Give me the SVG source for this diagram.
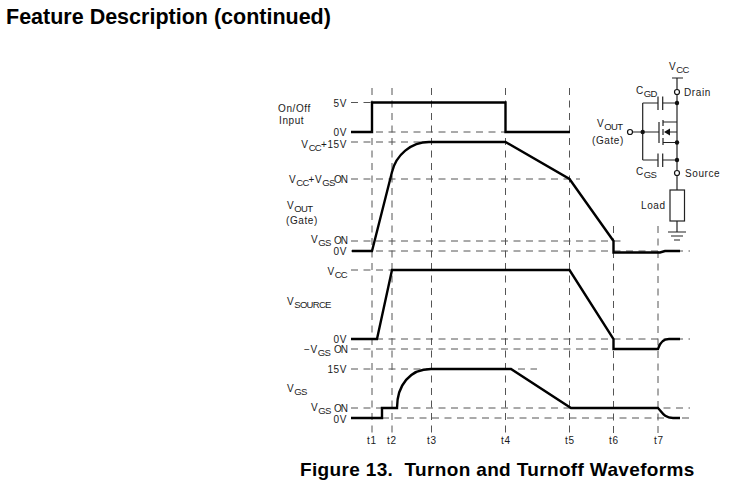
<svg xmlns="http://www.w3.org/2000/svg" width="737" height="495" viewBox="0 0 737 495">
<style>
text{font-family:"Liberation Sans",Arial,sans-serif;fill:#1a1a1a}
.l{font-size:10px;letter-spacing:.6px}
.e{text-anchor:end}
.s{font-size:9.500px;letter-spacing:-.7px}
.n{font-size:10px;letter-spacing:-1px}
.d{stroke:#555;stroke-width:1;stroke-dasharray:7 5.5;fill:none}
.w{stroke:#000;stroke-width:2.4;fill:none;stroke-linejoin:miter}
.c{stroke:#222;stroke-width:1.2;fill:none}
.o{stroke:#111;stroke-width:1.2;fill:#fff}
.b{fill:#111}
</style>
<rect width="737" height="495" fill="#fff"/>
<text x="6" y="24" font-size="21.500" font-weight="bold" style="fill:#000">Feature Description (continued)</text>
<g id="grid">
<path class="d" d="M372 88V435M392 88V435M431.500 88V435M505.500 88V435M569.500 88V435M613.500 226V435M658 226V435"/>
<path class="d" d="M351 102.500H372M351 132H505M351 142H505M351 179H580M351 241H625M351 251H690M351 270H392M351 339H690M351 349H614M351 369H431M518 369H537M351 408H690M382 418H690"/>
</g>
<g id="waveforms">
<path class="w" d="M351 132H372V102.500H505.500V132H570"/>
<path class="w" d="M352 251H372L392 172C396 155 411 142 429 142H505.500L569.500 179L613.500 241V252.500H660L665 251H680"/>
<path class="w" d="M351 339H377L392 270H569.500L613.500 339V349H658C660 342 664 339 669 339H680"/>
<path class="w" d="M351 418H382V408H397C397 385 410 369 431 369H511L571 408H658C662 412 664 418 673 418H680"/>
</g>
<g id="labels">
<text class="l" x="278" y="112">On/Off</text>
<text class="l" x="279" y="124">Input</text>
<text class="l e" x="347" y="107">5V</text>
<text class="l e" x="347" y="136">0V</text>
<text class="l e" x="347" y="148">V<tspan class="s" dy="3">CC</tspan><tspan dy="-3">+15V</tspan></text>
<text class="l" x="289" y="183">V<tspan class="s" dy="3">CC</tspan><tspan dy="-3">+V</tspan><tspan class="s" dy="3">GS</tspan></text>
<text class="n e" x="347" y="183">ON</text>
<text class="l" x="311" y="243">V<tspan class="s" dy="3">GS</tspan></text>
<text class="l" x="287" y="209">V<tspan class="s" dy="3">OUT</tspan></text>
<text class="l" x="286" y="224">(Gate)</text>
<text class="n e" x="347" y="244">ON</text>
<text class="l e" x="347" y="255">0V</text>
<text class="l e" x="347" y="275">V<tspan class="s" dy="3">CC</tspan></text>
<text class="l" x="287" y="305">V<tspan class="s" dy="3">SOURCE</tspan></text>
<text class="l e" x="347" y="343">0V</text>
<text class="l" x="304" y="353">−V<tspan class="s" dy="3">GS</tspan></text>
<text class="n e" x="347" y="353">ON</text>
<text class="l e" x="347" y="373">15V</text>
<text class="l" x="287" y="392">V<tspan class="s" dy="3">GS</tspan></text>
<text class="l" x="311" y="411">V<tspan class="s" dy="3">GS</tspan></text>
<text class="n e" x="347" y="412">ON</text>
<text class="l e" x="347" y="423">0V</text>
<text class="l" x="367" y="444">t1</text>
<text class="l" x="387" y="444">t2</text>
<text class="l" x="427" y="444">t3</text>
<text class="l" x="501" y="444">t4</text>
<text class="l" x="565" y="444">t5</text>
<text class="l" x="609" y="444">t6</text>
<text class="l" x="654" y="444">t7</text>
</g>
<g id="mosfet-circuit">
<path class="c" d="M672 78H683M677 78V89.500M677 94.500V170.500M677 175.500V190M642.700 103V160M642.700 103H658M662.700 103H677M642.700 160H658M662.700 160H677M632.500 132H659M663 122H677M663 142.500H677M668 132H677V142.500"/>
<path class="c" d="M658 96.500V110M662.700 96.500V110M658 153.500V167M662.700 153.500V167M659 122V143M663 120V126M663 129V135M663 138V145"/>
<path class="b" d="M664 132L670 128.500V135.500Z"/>
<rect class="c" x="670" y="190" width="14.500" height="31"/>
<path class="c" d="M677 221V232M668 232H686M671 236H683M674 240H680"/>
<circle class="b" cx="677" cy="103" r="2.200"/>
<circle class="b" cx="677" cy="142.500" r="2.200"/>
<circle class="b" cx="677" cy="160" r="2.200"/>
<circle class="b" cx="642.700" cy="132" r="2.200"/>
<circle class="o" cx="677" cy="92" r="2.500"/>
<circle class="o" cx="677" cy="173" r="2.500"/>
<circle class="o" cx="630" cy="132" r="2.500"/>
<text class="l" x="669" y="70">V<tspan class="s" dy="3">CC</tspan></text>
<text class="l" x="684" y="96">Drain</text>
<text class="l" x="636" y="94">C<tspan class="s" dy="3">GD</tspan></text>
<text class="l" x="597" y="127">V<tspan class="s" dy="3">OUT</tspan></text>
<text class="l" x="592" y="144">(Gate)</text>
<text class="l" x="636" y="175">C<tspan class="s" dy="3">GS</tspan></text>
<text class="l" x="685" y="177">Source</text>
<text class="l" x="641" y="209">Load</text>
</g>
<text x="300" y="476" xml:space="preserve" font-size="19" font-weight="bold" letter-spacing=".35" style="fill:#000">Figure 13.  Turnon and Turnoff Waveforms</text>
</svg>
